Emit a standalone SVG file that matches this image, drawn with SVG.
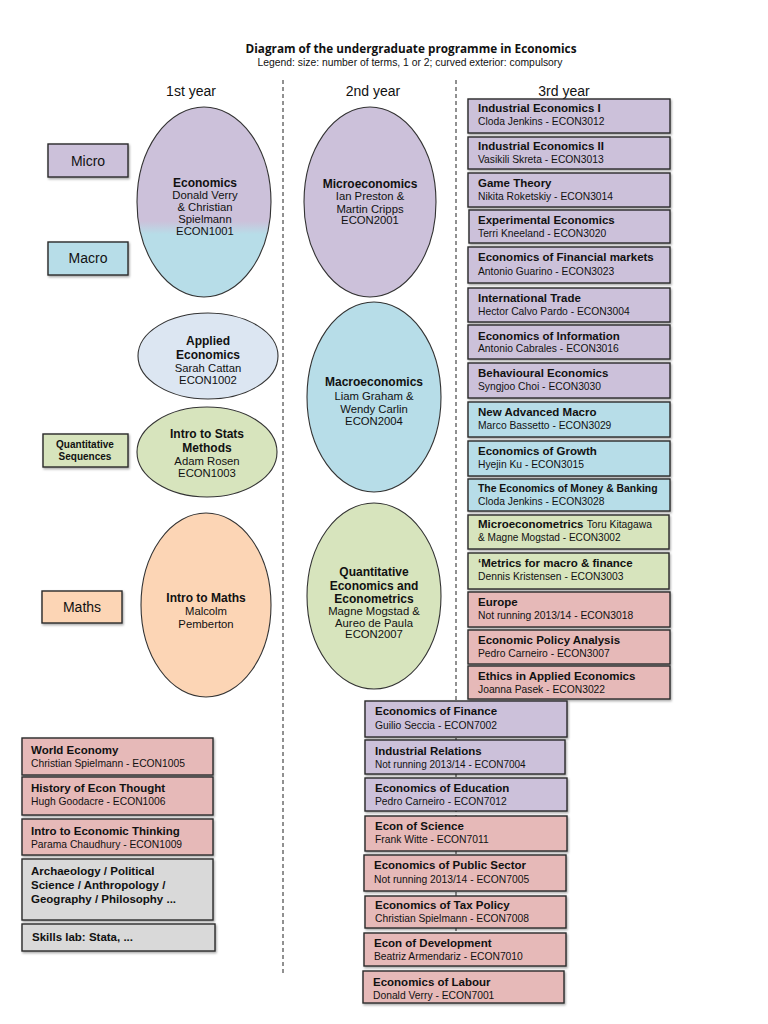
<svg xmlns="http://www.w3.org/2000/svg" width="768" height="1024" viewBox="0 0 768 1024">
<defs>
<style>
text{font-family:"Liberation Sans",Arial,sans-serif;fill:#111}
.b{font-weight:bold}
.t{font-weight:bold;font-size:11.5px}
.s{font-size:10.3px}
.et{font-weight:bold;font-size:12px;text-anchor:middle}
.er{font-size:11.3px;text-anchor:middle}
.box{stroke:#2a2a2a;stroke-width:1.4}
.ell{stroke:#333;stroke-width:1.1}
.pu{fill:#ccc1da}.bl{fill:#b7dde8}.gr{fill:#d7e4bd}.pk{fill:#e6b9b8}.gy{fill:#d9d9d9}.pe{fill:#fcd5b5}.lb{fill:#dce6f2}
.dash{stroke:#222;stroke-width:1;stroke-dasharray:4 3;fill:none}
.yr{font-size:14px;text-anchor:middle}
</style>
<linearGradient id="econGrad" x1="0" y1="0" x2="0" y2="1">
<stop offset="0.6" stop-color="#ccc1da"/>
<stop offset="0.67" stop-color="#b7dde8"/>
</linearGradient>
<filter id="sh" x="-5%" y="-10%" width="115%" height="130%">
<feDropShadow dx="1" dy="1.5" stdDeviation="0.8" flood-color="#000" flood-opacity="0.35"/>
</filter>
</defs>
<rect width="768" height="1024" fill="#fff"/>

<g id="header">
<text x="411" y="53" class="b" font-size="12.5" text-anchor="middle" textLength="331" lengthAdjust="spacingAndGlyphs" style="font-family:'Open Sans','Liberation Sans',sans-serif">Diagram of the undergraduate programme in Economics</text>
<text x="410" y="66" font-size="10" text-anchor="middle" textLength="305" lengthAdjust="spacingAndGlyphs">Legend: size: number of terms, 1 or 2; curved exterior: compulsory</text>
<text x="191" y="96" class="yr">1st year</text>
<text x="373" y="96" class="yr">2nd year</text>
<text x="564" y="96" class="yr">3rd year</text>
</g>

<g id="connectors">
<line class="dash" x1="283" y1="80" x2="283" y2="975"/>
<line class="dash" x1="456" y1="80" x2="456" y2="968"/>
</g>

<g id="micro-label"><rect class="box pu" x="48" y="144" width="80" height="33" filter="url(#sh)"/><text x="88" y="166" font-size="14" text-anchor="middle">Micro</text></g>
<g id="macro-label"><rect class="box bl" x="48" y="242" width="80" height="33" filter="url(#sh)"/><text x="88" y="263" font-size="14" text-anchor="middle">Macro</text></g>
<g id="quant-label"><rect class="box gr" x="43" y="434" width="85" height="33" filter="url(#sh)"/><text x="85" y="448" class="b" font-size="10" text-anchor="middle">Quantitative</text><text x="85" y="460" class="b" font-size="10" text-anchor="middle">Sequences</text></g>
<g id="maths-label"><rect class="box pe" x="42" y="591" width="80" height="32" filter="url(#sh)"/><text x="82" y="612" font-size="14" text-anchor="middle">Maths</text></g>

<g id="econ1001"><ellipse class="ell" cx="204" cy="202" rx="67" ry="95" fill="url(#econGrad)"/>
<text x="205" y="187" class="et">Economics</text><text x="205" y="199" class="er">Donald Verry</text><text x="205" y="211" class="er">&amp; Christian</text><text x="205" y="223" class="er">Spielmann</text><text x="205" y="235" class="er">ECON1001</text></g>
<g id="econ1002"><ellipse class="ell lb" cx="208" cy="356" rx="70" ry="43"/>
<text x="208" y="345" class="et">Applied</text><text x="208" y="359" class="et">Economics</text><text x="208" y="372" class="er">Sarah Cattan</text><text x="208" y="384" class="er">ECON1002</text></g>
<g id="econ1003"><ellipse class="ell gr" cx="207" cy="452" rx="70" ry="45"/>
<text x="207" y="438" class="et">Intro to Stats</text><text x="207" y="452" class="et">Methods</text><text x="207" y="465" class="er">Adam Rosen</text><text x="207" y="477" class="er">ECON1003</text></g>
<g id="maths"><ellipse class="ell pe" cx="206" cy="605" rx="65" ry="92"/>
<text x="206" y="602" class="et">Intro to Maths</text><text x="206" y="615" class="er">Malcolm</text><text x="206" y="628" class="er">Pemberton</text></g>

<g id="econ2001"><ellipse class="ell pu" cx="370" cy="202" rx="66" ry="95"/>
<text x="370" y="188" class="et">Microeconomics</text><text x="370" y="200" class="er">Ian Preston &amp;</text><text x="370" y="213" class="er">Martin Cripps</text><text x="370" y="224" class="er">ECON2001</text></g>
<g id="econ2004"><ellipse class="ell bl" cx="374" cy="397" rx="67" ry="95"/>
<text x="374" y="386" class="et">Macroeconomics</text><text x="374" y="400" class="er">Liam Graham &amp;</text><text x="374" y="413" class="er">Wendy Carlin</text><text x="374" y="425" class="er">ECON2004</text></g>
<g id="econ2007"><ellipse class="ell gr" cx="374" cy="596" rx="67" ry="93"/>
<text x="374" y="576" class="et">Quantitative</text><text x="374" y="590" class="et">Economics and</text><text x="374" y="603" class="et">Econometrics</text><text x="374" y="615" class="er">Magne Mogstad &amp;</text><text x="374" y="627" class="er">Aureo de Paula</text><text x="374" y="638" class="er">ECON2007</text></g>

<g id="econ3012"><rect class="box pu" x="468" y="99" width="202" height="34" filter="url(#sh)"/><text x="478" y="112" class="t">Industrial Economics I</text><text x="478" y="125" class="s">Cloda Jenkins - ECON3012</text></g>
<g id="econ3013"><rect class="box pu" x="468" y="137" width="202" height="32" filter="url(#sh)"/><text x="478" y="150" class="t">Industrial Economics II</text><text x="478" y="163" class="s">Vasikili Skreta - ECON3013</text></g>
<g id="econ3014"><rect class="box pu" x="468" y="173" width="202" height="34" filter="url(#sh)"/><text x="478" y="187" class="t">Game Theory</text><text x="478" y="200" class="s">Nikita Roketskiy - ECON3014</text></g>
<g id="econ3020"><rect class="box pu" x="469" y="210" width="201" height="33" filter="url(#sh)"/><text x="478" y="224" class="t">Experimental Economics</text><text x="478" y="237" class="s">Terri Kneeland - ECON3020</text></g>
<g id="econ3023"><rect class="box pu" x="468" y="247" width="202" height="36" filter="url(#sh)"/><text x="478" y="261" class="t">Economics of Financial markets</text><text x="478" y="275" class="s">Antonio Guarino - ECON3023</text></g>
<g id="econ3004"><rect class="box pu" x="468" y="288" width="202" height="34" filter="url(#sh)"/><text x="478" y="302" class="t">International Trade</text><text x="478" y="315" class="s">Hector Calvo Pardo - ECON3004</text></g>
<g id="econ3016"><rect class="box pu" x="468" y="325" width="202" height="34" filter="url(#sh)"/><text x="478" y="340" class="t">Economics of Information</text><text x="478" y="352" class="s">Antonio Cabrales - ECON3016</text></g>
<g id="econ3030"><rect class="box pu" x="468" y="363" width="202" height="35" filter="url(#sh)"/><text x="478" y="377" class="t">Behavioural Economics</text><text x="478" y="390" class="s">Syngjoo Choi - ECON3030</text></g>
<g id="econ3029"><rect class="box bl" x="468" y="402" width="202" height="35" filter="url(#sh)"/><text x="478" y="416" class="t">New Advanced Macro</text><text x="478" y="429" class="s">Marco Bassetto - ECON3029</text></g>
<g id="econ3015"><rect class="box bl" x="468" y="441" width="202" height="35" filter="url(#sh)"/><text x="478" y="455" class="t">Economics of Growth</text><text x="478" y="468" class="s">Hyejin Ku - ECON3015</text></g>
<g id="econ3028"><rect class="box bl" x="468" y="479" width="202" height="32" filter="url(#sh)"/><text x="478" y="492" class="b" font-size="10.4">The Economics of Money &amp; Banking</text><text x="478" y="505" class="s">Cloda Jenkins - ECON3028</text></g>
<g id="econ3002"><rect class="box gr" x="468" y="515" width="201" height="34" filter="url(#sh)"/><text x="478" y="528" class="t">Microeconometrics <tspan font-weight="normal" font-size="10.3">Toru Kitagawa</tspan></text><text x="478" y="541" font-size="10.1">&amp; Magne Mogstad - ECON3002</text></g>
<g id="econ3003"><rect class="box gr" x="468" y="553" width="201" height="36" filter="url(#sh)"/><text x="478" y="567" class="t">‘Metrics for macro &amp; finance</text><text x="478" y="580" class="s">Dennis Kristensen - ECON3003</text></g>
<g id="econ3018"><rect class="box pk" x="468" y="592" width="202" height="35" filter="url(#sh)"/><text x="478" y="606" class="t">Europe</text><text x="478" y="619" class="s">Not running 2013/14 - ECON3018</text></g>
<g id="econ3007"><rect class="box pk" x="468" y="630" width="202" height="34" filter="url(#sh)"/><text x="478" y="644" class="t">Economic Policy Analysis</text><text x="478" y="657" class="s">Pedro Carneiro - ECON3007</text></g>
<g id="econ3022"><rect class="box pk" x="468" y="666" width="202" height="33" filter="url(#sh)"/><text x="478" y="680" class="t">Ethics in Applied Economics</text><text x="478" y="693" class="s">Joanna Pasek - ECON3022</text></g>

<g id="econ1005"><rect class="box pk" x="22" y="738" width="191" height="37" filter="url(#sh)"/><text x="31" y="754" class="t">World Economy</text><text x="31" y="767" class="s">Christian Spielmann - ECON1005</text></g>
<g id="econ1006"><rect class="box pk" x="22" y="777" width="191" height="38" filter="url(#sh)"/><text x="31" y="792" class="t">History of Econ Thought</text><text x="31" y="805" class="s">Hugh Goodacre - ECON1006</text></g>
<g id="econ1009"><rect class="box pk" x="22" y="819" width="191" height="36" filter="url(#sh)"/><text x="31" y="835" class="t">Intro to Economic Thinking</text><text x="31" y="848" class="s">Parama Chaudhury - ECON1009</text></g>
<g id="other-depts"><rect class="box gy" x="22" y="859" width="191" height="61" filter="url(#sh)"/><text x="31" y="875" class="t">Archaeology / Political</text><text x="31" y="889" class="t">Science / Anthropology /</text><text x="31" y="903" class="t">Geography / Philosophy ...</text></g>
<g id="skills-lab"><rect class="box gy" x="22" y="924" width="193" height="27" filter="url(#sh)"/><text x="32" y="941" class="t">Skills lab: Stata, ...</text></g>

<g id="econ7002"><rect class="box pu" x="365" y="701" width="202" height="36" filter="url(#sh)"/><text x="375" y="715" class="t">Economics of Finance</text><text x="375" y="729" class="s">Guilio Seccia - ECON7002</text></g>
<g id="econ7004"><rect class="box pu" x="365" y="740" width="200" height="34" filter="url(#sh)"/><text x="375" y="755" class="t">Industrial Relations</text><text x="375" y="768" font-size="10">Not running 2013/14 - ECON7004</text></g>
<g id="econ7012"><rect class="box pu" x="365" y="778" width="202" height="33" filter="url(#sh)"/><text x="375" y="792" class="t">Economics of Education</text><text x="375" y="805" class="s">Pedro Carneiro - ECON7012</text></g>
<g id="econ7011"><rect class="box pk" x="365" y="816" width="202" height="35" filter="url(#sh)"/><text x="375" y="830" class="t">Econ of Science</text><text x="375" y="843" class="s">Frank Witte - ECON7011</text></g>
<g id="econ7005"><rect class="box pk" x="364" y="855" width="202" height="36" filter="url(#sh)"/><text x="374" y="869" class="t">Economics of Public Sector</text><text x="374" y="883" class="s">Not running 2013/14 - ECON7005</text></g>
<g id="econ7008"><rect class="box pk" x="365" y="896" width="201" height="32" filter="url(#sh)"/><text x="375" y="909" class="t">Economics of Tax Policy</text><text x="375" y="922" class="s">Christian Spielmann - ECON7008</text></g>
<g id="econ7010"><rect class="box pk" x="364" y="933" width="202" height="33" filter="url(#sh)"/><text x="374" y="947" class="t">Econ of Development</text><text x="374" y="960" class="s">Beatriz Armendariz - ECON7010</text></g>
<g id="econ7001"><rect class="box pk" x="363" y="971" width="201" height="32" filter="url(#sh)"/><text x="373" y="986" class="t">Economics of Labour</text><text x="373" y="999" class="s">Donald Verry - ECON7001</text></g>
</svg>
